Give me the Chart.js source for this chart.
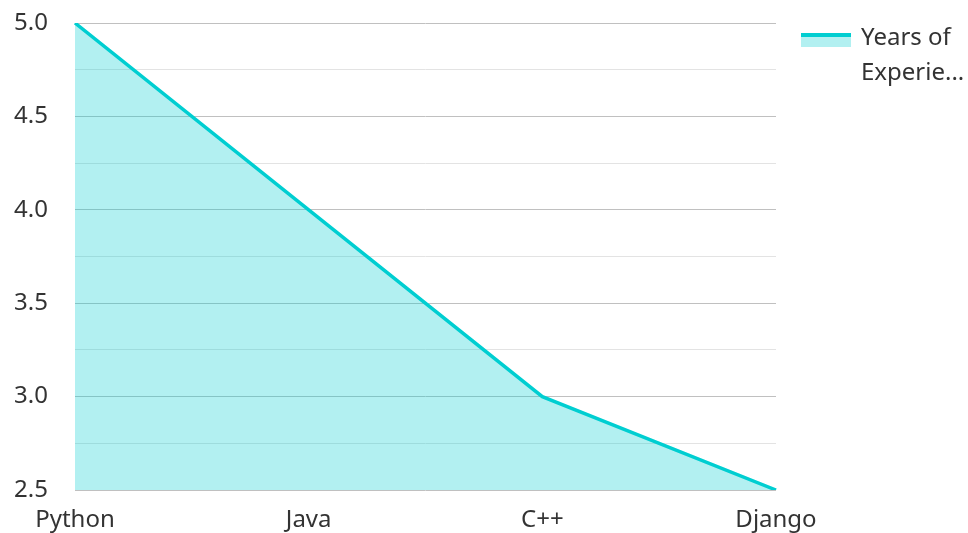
<!DOCTYPE html>
<html>
<head>
<meta charset="utf-8">
<script src="https://cdn.jsdelivr.net/npm/chart.js@4"></script>
<style>
  body { margin: 0; background: #fff; }
  #wrap { position: relative; width: 968px; height: 533px; }
  #legend { position: absolute; left: 801px; top: 18px; display: flex; font-family: 'Noto Sans', sans-serif; font-size: 24px; color: #333; line-height: 35px; }
  #legend .swatch { width: 50px; height: 14px; margin-top: 15px; background: rgba(0, 206, 209, 0.3); border-top: 4px solid #00CED1; box-sizing: border-box; }
  #legend .text { margin-left: 10px; }
</style>
</head>
<body>
<div id="wrap">
  <canvas id="skillsChart" width="968" height="533"></canvas>
  <div id="legend"><div class="swatch"></div><div class="text">Years of<br>Experie...</div></div>
</div>
<script>
const skills = ['Python', 'Java', 'C++', 'Django'];
const yearsOfExperience = [5.0, 4.0, 3.0, 2.5];
const yTicks = [2.5, 3.0, 3.5, 4.0, 4.5, 5.0];

window.onload = function() {
    const ctx = document.getElementById('skillsChart').getContext('2d');
    const skillsChart = new Chart(ctx, {
        type: 'line',
        data: {
            labels: skills,
            datasets: [{
                label: 'Years of Experience',
                data: yearsOfExperience,
                borderColor: '#00CED1',
                backgroundColor: 'rgba(0, 206, 209, 0.3)',
                borderWidth: 3.5,
                pointRadius: 0,
                tension: 0,
                fill: 'start'
            }]
        },
        options: {
            responsive: false,
            animation: false,
            layout: { padding: { left: 14, top: 23, right: 192, bottom: 0 } },
            plugins: {
                legend: { display: false },
                tooltip: { enabled: false }
            },
            scales: {
                x: {
                    grid: { display: false },
                    border: { display: false },
                    ticks: {
                        color: '#333',
                        font: { family: 'Noto Sans', size: 24 },
                        padding: 8,
                        maxRotation: 0
                    },
                    afterFit: function(scale) { scale.height = 43; }
                },
                y: {
                    min: yTicks[0],
                    max: yTicks[yTicks.length - 1],
                    border: { display: false },
                    grid: {
                        color: function(c) {
                            return yTicks.includes(c.tick.value) ? '#c0c0c0' : '#e3e3e3';
                        },
                        drawTicks: false
                    },
                    ticks: {
                        stepSize: 0.25,
                        color: '#333',
                        font: { family: 'Noto Sans', size: 24 },
                        crossAlign: 'far',
                        padding: 8,
                        callback: function(value) {
                            return yTicks.includes(value) ? value.toFixed(1) : '';
                        }
                    },
                    afterFit: function(scale) { scale.width = 61; }
                }
            }
        }
    });
};
</script>
</body>
</html>
